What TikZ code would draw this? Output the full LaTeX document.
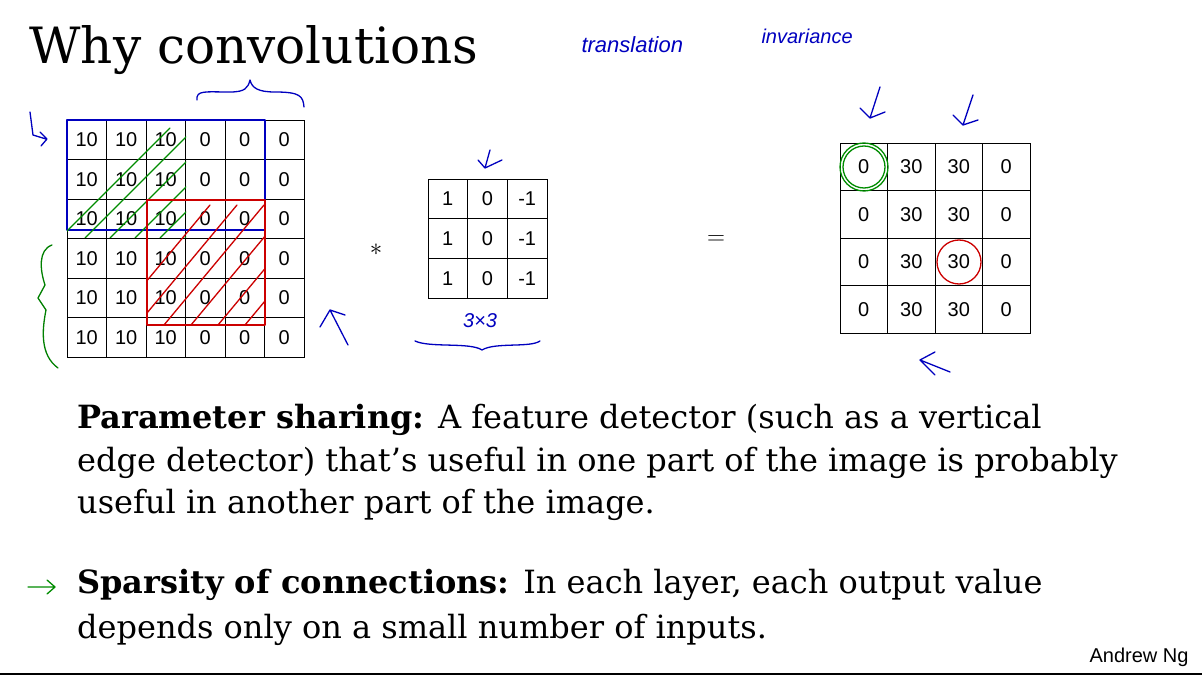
\documentclass[tikz,border=0pt]{standalone}
\usepackage{fontspec}
\setmainfont{DejaVu Serif}
\newfontfamily\sans{Liberation Sans}
\begin{document}
\begin{tikzpicture}[x=1pt,y=-1pt,
  cell/.style={draw,thick,minimum size=#1,inner sep=0pt,font=\sans\fontsize{20}{20}\selectfont},
  hand/.style={line width=1.3pt,line cap=round,line join=round}]
\useasboundingbox (0,0) rectangle (1202,676);
\fill[white] (0,0) rectangle (1202,676);
\draw[line width=2pt] (0,674) -- (1202,674);
\node[anchor=west,font=\fontsize{50}{50}\selectfont] (title) at (26,50) {Why convolutions};
% input grid
\foreach \r in {0,...,5}{
  \foreach \c/\v in {0/10,1/10,2/10,3/0,4/0,5/0}{
    \node[cell=39.5pt] (a\r\c) at ({86.75+39.5*\c},{139.75+39.5*\r}) {\v};}}
% filter
\foreach \r in {0,1,2}{
  \foreach \c/\v in {0/1,1/0,2/-1}{
    \node[cell=39.7pt] (f\r\c) at ({447.8+39.7*\c},{198.8+39.7*\r}) {\v};}}
% output
\foreach \r in {0,...,3}{
  \foreach \c/\v in {0/0,1/30,2/30,3/0}{
    \node[cell=47.5pt] (o\r\c) at ({863.75+47.5*\c},{166.75+47.5*\r}) {\v};}}
\node[font=\fontsize{40}{40}\selectfont] (star) at (376,250) {$*$};
\node[font=\fontsize{36}{36}\selectfont] (eq) at (716,240) {$=$};
% annotations blue
\draw[hand,blue!75!black] (67,120) rectangle (265,230);
\draw[hand,blue!75!black] (197,100) .. controls (196,90) and (205,92) .. (230,92) .. controls (245,92) and (248,88) .. (250,80) .. controls (252,88) and (258,92) .. (275,92) .. controls (300,92) and (303,96) .. (304,107);
\draw[hand,blue!75!black] (30,112) -- (33,135) -- (46,139) (40,132) -- (47,139) -- (41,146);
\draw[hand,blue!75!black] (415,341) .. controls (430,348) and (470,342) .. (482,350) .. controls (495,342) and (530,348) .. (540,341);
\node[blue!75!black,font=\sans\itshape\fontsize{20}{20}\selectfont] (sz) at (480,321) {3×3};
\draw[hand,blue!75!black] (490,150) -- (485,168) (478,160) -- (485,168) -- (502,160);
\draw[hand,blue!75!black] (880,87) -- (870,118) (860,108) -- (870,118) -- (885,112);
\draw[hand,blue!75!black] (973,95) -- (963,125) (953,115) -- (963,125) -- (978,120);
\draw[hand,blue!75!black] (320,327) -- (330,310) -- (348,345) (330,310) -- (345,315);
\draw[hand,blue!75!black] (935,375) -- (920,360) -- (935,352) (920,360) -- (950,372);
\node[blue!75!black,font=\sans\itshape\fontsize{22}{22}\selectfont,anchor=west] (ti) at (578,45) {translation};
\node[blue!75!black,font=\sans\itshape\fontsize{20}{20}\selectfont,anchor=west] (inv) at (758,36) {invariance};
% green
\draw[hand,green!50!black] (52,245) .. controls (38,250) and (40,270) .. (45,285) -- (38,298) -- (46,310) .. controls (42,330) and (40,355) .. (58,368);
\begin{scope}
\clip (67,120) rectangle (186,238);
\foreach \k in {0,...,9}{\draw[hand,green!55!black] ({60+25*\k},238) -- ({60+25*\k+110},128);}
\end{scope}
\draw[hand,green!55!black] (864,167) circle (24);
\draw[hand,green!55!black] (864,167) circle (21);
% red
\draw[hand,red!80!black] (147,200) rectangle (265,325);
\begin{scope}
\clip (147,200) rectangle (265,325);
\foreach \k in {0,...,9}{\draw[hand,red!80!black] ({110+27*\k},325) -- ({110+27*\k+100},205);}
\end{scope}
\draw[hand,red!80!black] (959,262) circle (22);
% arrow before sparsity
\draw[hand,green!55!black] (28,587) -- (55,587) (47,580) -- (55,587) -- (47,594);
% text
\begin{scope}[every node/.style={anchor=base west,font=\fontsize{32}{32}\selectfont,inner sep=0pt}]
\node (p1) at (77,428) {\textbf{Parameter sharing:} A feature detector (such as a vertical};
\node (p2) at (77,471) {edge detector) that's useful in one part of the image is probably};
\node (p3) at (77,513) {useful in another part of the image.};
\node (s1) at (77,593) {\textbf{Sparsity of connections:} In each layer, each output value};
\node (s2) at (77,638) {depends only on a small number of inputs.};
\end{scope}
\node[font=\sans\fontsize{20}{20}\selectfont,anchor=east] (ng) at (1192,657) {Andrew Ng};
\end{tikzpicture}
\end{document}
